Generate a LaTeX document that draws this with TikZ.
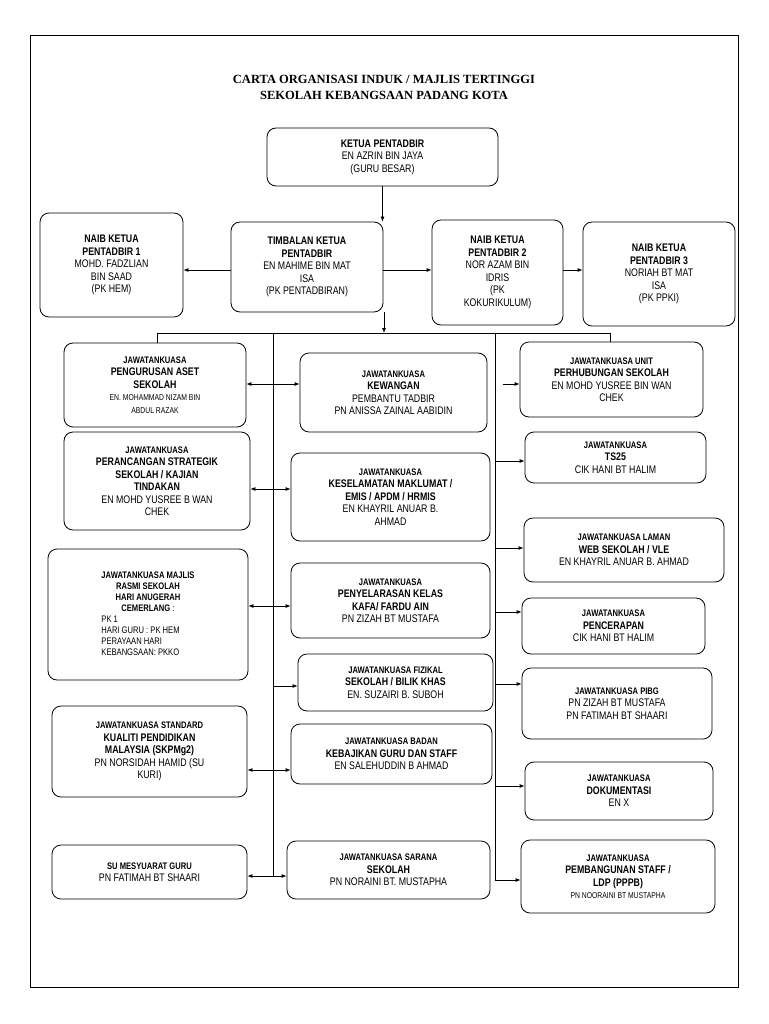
\documentclass[tikz,border=0pt]{standalone}
\usepackage{fontspec}
\setmainfont{Liberation Sans}[FakeStretch=0.8]
\newfontfamily\ttl{Liberation Serif}
\usetikzlibrary{arrows.meta}
\tikzset{
 bx/.style={draw,thick,rounded corners=9pt,align=center,inner sep=1pt,font=\fontsize{11}{12.5}\selectfont},
 ar/.style={-{Latex[length=5pt,width=4pt]},thick},
 dar/.style={{Latex[length=5pt,width=4pt]}-{Latex[length=5pt,width=4pt]},thick},
 ln/.style={thick}
}
\newcommand\bx[6]{\node[bx,minimum width={(#4-#2)*1pt},minimum height={(#5-#3)*1pt}] (#1) at ({(#2+#4)/2},{(#3+#5)/2}) {#6};}
\newcommand\sm{\fontsize{9.5}{11}\selectfont}
\begin{document}
\begin{tikzpicture}[x=1pt,y=-1pt]
\useasboundingbox (0,0) rectangle (768,1024);
\draw[thick] (30,35) rectangle (738,987);
\node[font=\ttl\bfseries\fontsize{12.5}{16}\selectfont,align=center] (title) at (384,87) {CARTA ORGANISASI INDUK / MAJLIS TERTINGGI\\SEKOLAH KEBANGSAAN PADANG KOTA};
\bx{ketua}{267}{128}{498}{186}{\textbf{KETUA PENTADBIR}\\EN AZRIN BIN JAYA\\(GURU BESAR)}
\bx{nk1}{40}{213}{183}{317}{\textbf{NAIB KETUA}\\\textbf{PENTADBIR 1}\\MOHD. FADZLIAN\\BIN SAAD\\(PK HEM)}
\bx{timb}{231}{222}{383}{312}{\textbf{TIMBALAN KETUA}\\\textbf{PENTADBIR}\\EN MAHIME BIN MAT\\ISA\\(PK PENTADBIRAN)}
\bx{nk2}{432}{220}{563}{325}{\textbf{NAIB KETUA}\\\textbf{PENTADBIR 2}\\NOR AZAM BIN\\IDRIS\\(PK\\KOKURIKULUM)}
\bx{nk3}{583}{222}{735}{326}{\textbf{NAIB KETUA}\\\textbf{PENTADBIR 3}\\NORIAH BT MAT\\ISA\\(PK PPKI)}
\bx{L1}{64}{343}{246}{427}{\sm\textbf{JAWATANKUASA}\\\textbf{PENGURUSAN ASET}\\\textbf{SEKOLAH}\\{\fontsize{8.5}{10}\selectfont EN. MOHAMMAD NIZAM BIN}\\{\fontsize{8.5}{10}\selectfont ABDUL RAZAK}}
\bx{L2}{64}{432}{250}{530}{\sm\textbf{JAWATANKUASA}\\\textbf{PERANCANGAN STRATEGIK}\\\textbf{SEKOLAH / KAJIAN}\\\textbf{TINDAKAN}\\EN MOHD YUSREE B WAN\\CHEK}
\bx{L3}{48}{549}{248}{680}{\sm\begin{tabular}{@{}l@{}}\multicolumn{1}{@{}c@{}}{\textbf{JAWATANKUASA MAJLIS}}\\\multicolumn{1}{@{}c@{}}{\textbf{RASMI SEKOLAH}}\\\multicolumn{1}{@{}c@{}}{\textbf{HARI ANUGERAH}}\\\multicolumn{1}{@{}c@{}}{\textbf{CEMERLANG} :}\\ PK 1\\HARI GURU : PK HEM\\PERAYAAN HARI\\KEBANGSAAN: PKKO\end{tabular}}
\bx{L4}{52}{706}{247}{797}{\sm\textbf{JAWATANKUASA STANDARD}\\\textbf{KUALITI PENDIDIKAN}\\\textbf{MALAYSIA (SKPMg2)}\\PN NORSIDAH HAMID (SU\\KURI)}
\bx{L5}{52}{845}{247}{899}{\sm\textbf{SU MESYUARAT GURU}\\PN FATIMAH BT SHAARI}
\bx{M1}{300}{353}{487}{432}{\sm\textbf{JAWATANKUASA}\\\textbf{KEWANGAN}\\PEMBANTU TADBIR\\PN ANISSA ZAINAL AABIDIN}
\bx{M2}{291}{453}{490}{541}{\sm\textbf{JAWATANKUASA}\\\textbf{KESELAMATAN MAKLUMAT /}\\\textbf{EMIS / APDM / HRMIS}\\EN KHAYRIL ANUAR B.\\AHMAD}
\bx{M3}{291}{563}{490}{638}{\sm\textbf{JAWATANKUASA}\\\textbf{PENYELARASAN KELAS}\\\textbf{KAFA/ FARDU AIN}\\PN ZIZAH BT MUSTAFA}
\bx{M4}{298}{654}{493}{711}{\sm\textbf{JAWATANKUASA FIZIKAL}\\\textbf{SEKOLAH / BILIK KHAS}\\EN. SUZAIRI B. SUBOH}
\bx{M5}{291}{724}{492}{784}{\sm\textbf{JAWATANKUASA BADAN}\\\textbf{KEBAJIKAN GURU DAN STAFF}\\EN SALEHUDDIN B AHMAD}
\bx{M6}{287}{841}{490}{899}{\sm\textbf{JAWATANKUASA SARANA}\\\textbf{SEKOLAH}\\PN NORAINI BT. MUSTAPHA}
\bx{R1}{520}{342}{703}{417}{\sm\textbf{JAWATANKUASA UNIT}\\\textbf{PERHUBUNGAN SEKOLAH}\\EN MOHD YUSREE BIN WAN\\CHEK}
\bx{R2}{525}{432}{706}{483}{\sm\textbf{JAWATANKUASA}\\\textbf{TS25}\\CIK HANI BT HALIM}
\bx{R3}{524}{518}{724}{582}{\sm\textbf{JAWATANKUASA LAMAN}\\\textbf{WEB SEKOLAH / VLE}\\EN KHAYRIL ANUAR B. AHMAD}
\bx{R4}{522}{598}{705}{654}{\sm\textbf{JAWATANKUASA}\\\textbf{PENCERAPAN}\\CIK HANI BT HALIM}
\bx{R5}{522}{668}{712}{739}{\sm\textbf{JAWATANKUASA PIBG}\\PN ZIZAH BT MUSTAFA\\PN FATIMAH BT SHAARI}
\bx{R6}{525}{762}{713}{820}{\sm\textbf{JAWATANKUASA}\\\textbf{DOKUMENTASI}\\EN X}
\bx{R7}{521}{840}{715}{913}{\sm\textbf{JAWATANKUASA}\\\textbf{PEMBANGUNAN STAFF /}\\\textbf{LDP (PPPB)}\\{\fontsize{8.5}{10}\selectfont PN NOORAINI BT MUSTAPHA}}
% top connectors
\draw[ar] (ketua.south) -- (timb.north -| ketua.south);
\draw[ar] (timb.west |- 0,270) -- (nk1.east |- 0,270);
\draw[ar] (timb.east |- 0,270) -- (nk2.west |- 0,270);
\draw[ar] (nk2.east |- 0,270) -- (nk3.west |- 0,270);
\coordinate (bus) at (384,333);
\draw[ar] (timb.south -| bus) -- (bus);
\coordinate (busL) at (157,333);
\coordinate (busR) at (610,333);
\draw[ln] (busL) -- (busR);
\draw[ln] (busL) -- (L1.north -| busL);
\draw[ln] (busR) -- (R1.north -| busR);
\coordinate (vL) at (273,333);
\coordinate (vLb) at (273,876);
\coordinate (vR) at (495,333);
\coordinate (vRb) at (495,880);
\draw[ln] (vL) -- (vLb);
\draw[ln] (vR) -- (vRb);
% left-mid double arrows
\draw[dar] (L1.east |- 0,384) -- (M1.west |- 0,384);
\draw[dar] (L2.east |- 0,489) -- (M2.west |- 0,489);
\draw[dar] (L3.east |- 0,606) -- (M3.west |- 0,606);
\draw[ar] (vL |- 0,686) -- (M4.west |- 0,686);
\draw[dar] (L4.east |- 0,770) -- (M5.west |- 0,770);
\draw[dar] (L5.east |- 0,876) -- (M6.west |- 0,876);
% right arrows
\draw[ar] (503,384) -- (R1.west |- 0,384);
\draw[ar] (vR |- 0,461) -- (R2.west |- 0,461);
\draw[ar] (vR |- 0,548) -- (R3.west |- 0,548);
\draw[ar] (vR |- 0,612) -- (R4.west |- 0,612);
\draw[ar] (vR |- 0,684) -- (R5.west |- 0,684);
\draw[ar] (vR |- 0,786) -- (R6.west |- 0,786);
\draw[ar] (vRb) -- (R7.west |- vRb);
\end{tikzpicture}
\end{document}
